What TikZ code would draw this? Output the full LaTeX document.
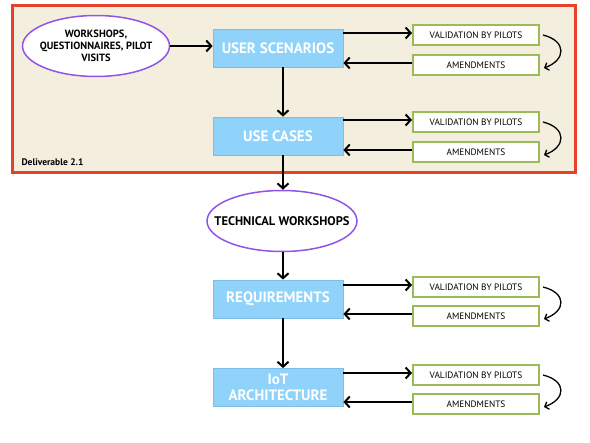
\documentclass[tikz,border=0pt]{standalone}
\usepackage{fontspec}
\setmainfont{PT Sans}
\usetikzlibrary{arrows.meta,shapes.geometric}
\definecolor{framered}{HTML}{E8412B}
\definecolor{beige}{HTML}{F4EEDF}
\definecolor{sky}{HTML}{8FD3FA}
\definecolor{skyedge}{HTML}{7DBDE6}
\definecolor{leaf}{HTML}{9BBB59}
\definecolor{violetline}{HTML}{9055E8}
\begin{document}
\begin{tikzpicture}[x=1pt,y=-1pt,
  proc/.style={draw=skyedge, line width=0.8pt, fill=sky, minimum width=130pt, minimum height=38pt, text=white, font=\bfseries\fontsize{15}{16}\selectfont, align=center, inner sep=0pt},
  check/.style={draw=leaf, line width=2pt, fill=white, minimum width=126pt, minimum height=20pt, font=\fontsize{9.3}{10}\selectfont, inner sep=0pt},
  src/.style={ellipse, draw=violetline, line width=1.5pt, fill=white, align=center, inner xsep=-40pt, inner ysep=-10pt, font=\bfseries\fontsize{10.5}{12}\selectfont},
  flow/.style={-{Straight Barb[length=5pt,width=11pt]}, line width=2pt},
  loopback/.style={-{Straight Barb[length=3.5pt,width=8pt]}, line width=1.3pt},
]
\useasboundingbox (0,0) rectangle (590,443);
\fill[white] (0,0) rectangle (590,443);
\node[draw=framered, line width=3pt, fill=beige, minimum width=563pt, minimum height=167pt, inner sep=0pt] (frame) at (294,89) {};
\node[anchor=west, font=\bfseries\fontsize{9.5}{10}\selectfont] (d21) at (18,162) {Deliverable 2.1};

\node[src, minimum width=147pt, minimum height=61pt] (e1) at (96,46) {WORKSHOPS,\\QUESTIONNAIRES, PILOT\\VISITS};
\node[src, minimum width=150pt, minimum height=61pt, font=\bfseries\fontsize{12.5}{14}\selectfont] (tw) at (282,221) {TECHNICAL WORKSHOPS};

\node[proc] (us) at (278,48) {USER SCENARIOS};
\node[proc] (uc) at (278,136) {USE CASES};
\node[proc] (req) at (278,299) {REQUIREMENTS};
\node[proc] (iot) at (278,387.5) {IoT\\ARCHITECTURE};

\node[check] (v1) at (476,35) {VALIDATION BY PILOTS};
\node[check] (a1) at (476,65) {AMENDMENTS};
\node[check] (v2) at (476,122) {VALIDATION BY PILOTS};
\node[check] (a2) at (476,152) {AMENDMENTS};
\node[check] (v3) at (476,287) {VALIDATION BY PILOTS};
\node[check] (a3) at (476,316) {AMENDMENTS};
\node[check] (v4) at (476,375) {VALIDATION BY PILOTS};
\node[check] (a4) at (476,404) {AMENDMENTS};

\draw[flow] (e1.east) -- (us.west |- e1.east);
\draw[flow] ([xshift=5pt]us.south) -- ([xshift=5pt]uc.north);
\draw[flow] ([xshift=5pt]uc.south) -- ([xshift=5pt]uc.south |- tw.north);
\draw[flow] ([xshift=5pt]req.north |- tw.south) -- ([xshift=5pt]req.north);
\draw[flow] ([xshift=5pt]req.south) -- ([xshift=5pt]iot.north);

\foreach \p/\v/\a in {us/v1/a1, uc/v2/a2, req/v3/a3, iot/v4/a4}{
  \draw[flow] ([yshift=2pt]\p.east |- \v.west) -- ([yshift=2pt]\v.west);
  \draw[flow] ([yshift=2pt]\a.west) -- ([yshift=2pt]\p.east |- \a.west);
  \draw[loopback] ([xshift=3pt]\v.east) .. controls +(24,6) and +(22,-8) .. ([xshift=4pt,yshift=-3pt]\a.east);
}
\end{tikzpicture}
\end{document}
